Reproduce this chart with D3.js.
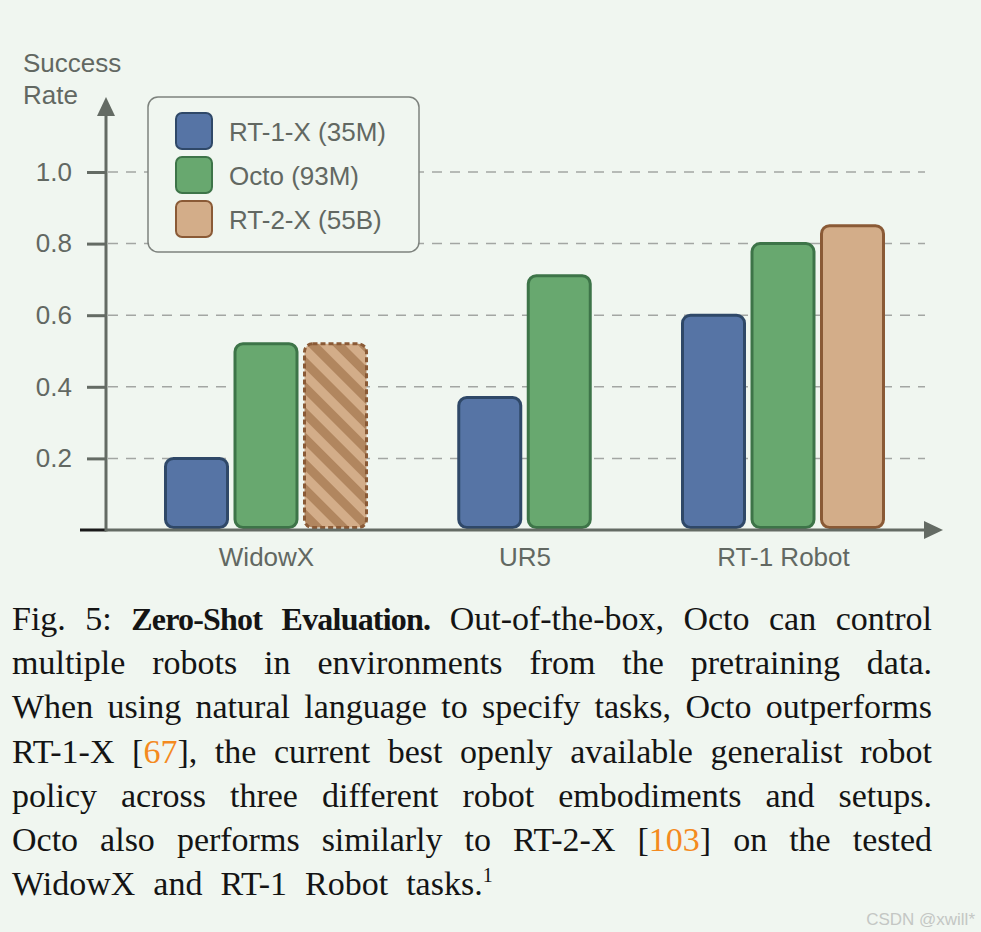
<!DOCTYPE html>
<html>
<head>
<meta charset="utf-8">
<script src="https://cdn.jsdelivr.net/npm/d3@7"></script>
<style>
  html, body { margin: 0; padding: 0; background: #f0f6f0; }
  svg { display: block; }
  .sans { font-family: "Liberation Sans", Arial, Helvetica, sans-serif; }
  .serif { font-family: "Liberation Serif", "Times New Roman", serif; }
</style>
</head>
<body>
<svg id="chart" width="981" height="932"></svg>
<script>
const robots = ['WidowX', 'UR5', 'RT-1 Robot'];
const models = ['RT-1-X (35M)', 'Octo (93M)', 'RT-2-X (55B)'];
const rt1xRates = [0.20, 0.37, 0.60];
const octoRates = [0.52, 0.71, 0.80];
const rt2xRates = [0.52, null, 0.85];
const rt2xHatched = [true, false, false];
const yTicks = [0.2, 0.4, 0.6, 0.8, 1.0];

const captionLines = [
  [['Fig. 5: '], ['Zero-Shot Evaluation.', 'b'], [' Out-of-the-box, Octo can control']],
  [['multiple robots in environments from the pretraining data.']],
  [['When using natural language to specify tasks, Octo outperforms']],
  [['RT-1-X ['], ['67', 'o'], ['], the current best openly available generalist robot']],
  [['policy across three different robot embodiments and setups.']],
  [['Octo also performs similarly to RT-2-X ['], ['103', 'o'], ['] on the tested']],
  [['WidowX and RT-1 Robot tasks.'], ['1', 's']],
];

(function () {
  const svg = d3.select('#chart');

  const BG = '#f0f6f0';
  const AXIS_COLOR = '#646b64';
  const TEXT_COLOR = '#626862';
  const FONT_SIZE = 26;
  const fills = ['#5674a5', '#68a86f', '#d3ad89'];
  const strokes = ['#2f4868', '#3d7448', '#8a5a36'];

  const X0 = 106;
  const Y0 = 530;
  const BAR_W = 62;
  const BAR_STEP = 69.5;

  svg.append('rect').attr('width', 981).attr('height', 932).attr('fill', BG);

  // ==================
  // Scales
  // ==================
  const yScale = d3.scaleLinear().domain([0, 1]).range([Y0, 172]);
  const xScale = d3.scalePoint().domain(robots).range([266, 783]);

  const defs = svg.append('defs');
  const hatch = defs.append('pattern')
    .attr('id', 'hatch')
    .attr('patternUnits', 'userSpaceOnUse')
    .attr('width', 18).attr('height', 18)
    .attr('patternTransform', 'rotate(45)');
  hatch.append('rect').attr('width', 18).attr('height', 18).attr('fill', '#d3ad89');
  hatch.append('rect').attr('width', 18).attr('height', 9).attr('fill', '#b1865f');

  // gridlines
  svg.append('g').selectAll('line')
    .data(yTicks)
    .join('line')
    .attr('x1', X0 + 2).attr('x2', 925)
    .attr('y1', d => yScale(d)).attr('y2', d => yScale(d))
    .attr('stroke', '#a3a6a3')
    .attr('stroke-width', 1.5)
    .attr('stroke-dasharray', '10 8');

  // ==================
  // Bars
  // ==================
  const series = [rt1xRates, octoRates, rt2xRates];
  const bars = [];
  robots.forEach((robot, i) => {
    const present = series.map((s, k) => ({ k, v: s[i] })).filter(d => d.v != null);
    present.forEach((d, j) => {
      bars.push({
        robot,
        k: d.k,
        v: d.v,
        hatched: d.k === 2 && rt2xHatched[i],
        cx: xScale(robot) + (j - (present.length - 1) / 2) * BAR_STEP,
      });
    });
  });

  svg.append('g').selectAll('rect')
    .data(bars)
    .join('rect')
    .attr('x', d => d.cx - BAR_W / 2)
    .attr('width', BAR_W)
    .attr('y', d => yScale(d.v))
    .attr('height', d => Y0 - 2.5 - yScale(d.v))
    .attr('rx', 8)
    .attr('fill', d => d.hatched ? 'url(#hatch)' : fills[d.k])
    .attr('stroke', d => strokes[d.k])
    .attr('stroke-width', 3)
    .attr('stroke-dasharray', d => d.hatched ? '5 3' : null);

  // ==================
  // Axes
  // ==================
  const yAxis = d3.axisLeft(yScale)
    .tickValues(yTicks)
    .tickFormat(d3.format('.1f'))
    .tickSize(19)
    .tickPadding(15);

  const yAxisGroup = svg.append('g')
    .attr('transform', `translate(${X0}, 0)`)
    .call(yAxis);
  yAxisGroup.select('.domain').remove();
  yAxisGroup.selectAll('.tick line').attr('stroke', AXIS_COLOR).attr('stroke-width', 3);
  yAxisGroup.selectAll('.tick text')
    .attr('class', 'sans')
    .attr('font-size', FONT_SIZE)
    .attr('fill', TEXT_COLOR);

  const xAxis = d3.axisBottom(xScale).tickSize(0).tickPadding(18);
  const xAxisGroup = svg.append('g')
    .attr('transform', `translate(0, ${Y0})`)
    .call(xAxis);
  xAxisGroup.select('.domain').remove();
  xAxisGroup.selectAll('.tick text')
    .attr('class', 'sans')
    .attr('font-size', FONT_SIZE)
    .attr('fill', TEXT_COLOR);

  // zero tick
  svg.append('line')
    .attr('x1', 80).attr('x2', X0)
    .attr('y1', yScale(0)).attr('y2', yScale(0))
    .attr('stroke', '#1a1a1a').attr('stroke-width', 3);

  // axis lines with arrows
  svg.append('line')
    .attr('x1', X0).attr('x2', X0)
    .attr('y1', Y0 + 1.5).attr('y2', 112)
    .attr('stroke', AXIS_COLOR).attr('stroke-width', 3);
  svg.append('path')
    .attr('d', `M${X0},97 L${X0 + 9},116 L${X0 - 9},116 Z`)
    .attr('fill', AXIS_COLOR);

  svg.append('line')
    .attr('x1', X0).attr('x2', 928)
    .attr('y1', Y0).attr('y2', Y0)
    .attr('stroke', AXIS_COLOR).attr('stroke-width', 3);
  svg.append('path')
    .attr('d', `M943,${Y0} L924,${Y0 - 9} L924,${Y0 + 9} Z`)
    .attr('fill', AXIS_COLOR);

  const yLabel = svg.append('text')
    .attr('class', 'sans')
    .attr('font-size', FONT_SIZE)
    .attr('fill', TEXT_COLOR);
  yLabel.append('tspan').attr('x', 23).attr('y', 72).text('Success');
  yLabel.append('tspan').attr('x', 23).attr('y', 104).text('Rate');

  // ==================
  // Legend
  // ==================
  const legend = svg.append('g');
  legend.append('rect')
    .attr('x', 148).attr('y', 97)
    .attr('width', 271).attr('height', 155)
    .attr('rx', 10)
    .attr('fill', BG)
    .attr('stroke', '#7d827d')
    .attr('stroke-width', 1.5);

  const legendItems = legend.selectAll('g.item')
    .data(models)
    .join('g')
    .attr('class', 'item')
    .attr('transform', (d, i) => `translate(176, ${113 + i * 44})`);
  legendItems.append('rect')
    .attr('width', 36).attr('height', 36)
    .attr('rx', 6)
    .attr('fill', (d, i) => fills[i])
    .attr('stroke', (d, i) => strokes[i])
    .attr('stroke-width', 2);
  legendItems.append('text')
    .attr('class', 'sans')
    .attr('x', 53).attr('y', 28)
    .attr('font-size', FONT_SIZE)
    .attr('fill', TEXT_COLOR)
    .text(d => d);

  // ==================
  // Caption (justified)
  // ==================
  const CAP_LEFT = 12;
  const CAP_RIGHT = 932;
  const CAP_TOP = 630;
  const CAP_STEP = 44.2;
  const CAP_SIZE = 34;

  const caption = svg.append('g').attr('class', 'serif');

  captionLines.forEach((segments, li) => {
    // split into words, each word a list of styled pieces
    const words = [[]];
    segments.forEach(([txt, style]) => {
      const parts = txt.split(' ');
      parts.forEach((p, pi) => {
        if (pi > 0) words.push([]);
        if (p.length) words[words.length - 1].push([p, style]);
      });
    });
    const cleanWords = words.filter(w => w.length);
    const y = CAP_TOP + li * CAP_STEP;

    const nodes = cleanWords.map(w => {
      const t = caption.append('text')
        .attr('y', y)
        .attr('font-size', CAP_SIZE)
        .attr('fill', '#141414');
      w.forEach(([p, style]) => {
        const ts = t.append('tspan').text(p);
        if (style === 'b') ts.attr('font-weight', 'bold').attr('font-size', 32).attr('letter-spacing', -0.8);
        if (style === 'o') ts.attr('fill', '#f48a1e');
        if (style === 's') ts.attr('font-size', 20).attr('dy', -13);
      });
      return t;
    });

    const widths = nodes.map(n => n.node().getComputedTextLength());
    const total = d3.sum(widths);
    const spaceW = 18;
    const last = li === captionLines.length - 1;
    const gap = last || nodes.length < 2
      ? spaceW
      : Math.max(3, (CAP_RIGHT - CAP_LEFT - total) / (nodes.length - 1));
    let x = CAP_LEFT;
    nodes.forEach((n, i) => {
      n.attr('x', x);
      x += widths[i] + gap;
    });
  });

  svg.append('text')
    .attr('class', 'sans')
    .attr('x', 975).attr('y', 925)
    .attr('text-anchor', 'end')
    .attr('font-size', 17)
    .attr('fill', '#c4c7c4')
    .text('CSDN @xwill*');
})();
</script>
</body>
</html>
